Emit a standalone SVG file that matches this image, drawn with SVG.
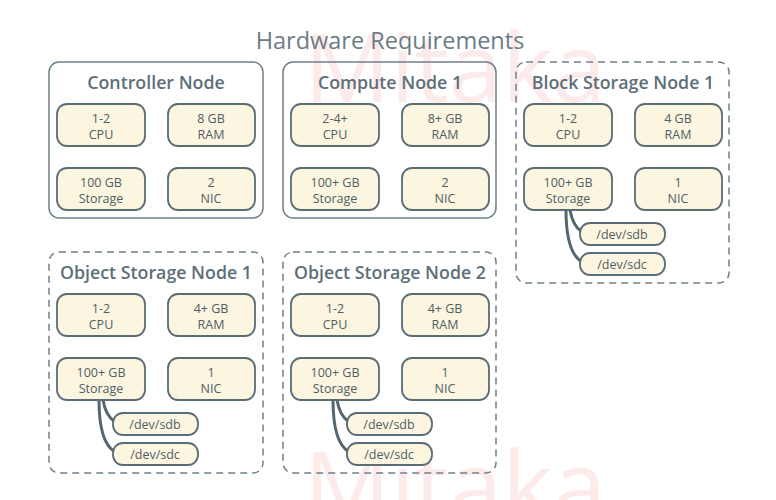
<svg xmlns="http://www.w3.org/2000/svg" width="776" height="500" viewBox="0 0 776 500">
<style>
text{font-family:"Open Sans","DejaVu Sans",sans-serif;text-anchor:middle}
.wm{font-size:96px;fill:#fdeaea}
.title{font-size:23.5px;fill:#6b7c85}
.nt{font-size:17.8px;fill:#5d6f79;font-weight:600}
.frame{fill:none;stroke:#6f808a;stroke-width:1.5}
.dash{stroke-dasharray:7 5}
.box{fill:#fcf5e0;stroke:#5a6c75;stroke-width:1.8}
.bt{font-size:12.5px;fill:#4e5f68}
.con{fill:none;stroke:#546770;stroke-width:3}
</style>
<text class="wm" x="455" y="102">Mitaka</text>
<text class="wm" x="455" y="520">Mitaka</text>
<text class="title" x="390" y="49">Hardware Requirements</text>
<defs>
<g id="quad">
<rect class="box" x="8" y="42" width="88" height="42" rx="10"/>
<rect class="box" x="119" y="42" width="87" height="42" rx="10"/>
<rect class="box" x="8" y="106" width="88" height="42" rx="10"/>
<rect class="box" x="119" y="106" width="87" height="42" rx="10"/>
</g>
<g id="devs">
<rect class="box" x="64" y="161" width="85" height="22" rx="10"/>
<rect class="box" x="64" y="191" width="85" height="22" rx="10"/>
<text class="bt" x="106" y="177">/dev/sdb</text>
<text class="bt" x="106" y="207">/dev/sdc</text>
</g>
</defs>
<g id="controller" transform="translate(49,62)">
<rect class="frame" width="214" height="156" rx="10"/>
<text class="nt" x="107" y="27">Controller Node</text>
<use href="#quad"/>
<text class="bt" x="52" y="61">1-2</text><text class="bt" x="52" y="77">CPU</text>
<text class="bt" x="162" y="61">8 GB</text><text class="bt" x="162" y="77">RAM</text>
<text class="bt" x="52" y="125">100 GB</text><text class="bt" x="52" y="141">Storage</text>
<text class="bt" x="162" y="125">2</text><text class="bt" x="162" y="141">NIC</text>
</g>
<g id="compute" transform="translate(283,62)">
<rect class="frame" width="213" height="156" rx="10"/>
<text class="nt" x="107" y="27">Compute Node 1</text>
<use href="#quad"/>
<text class="bt" x="52" y="61">2-4+</text><text class="bt" x="52" y="77">CPU</text>
<text class="bt" x="162" y="61">8+ GB</text><text class="bt" x="162" y="77">RAM</text>
<text class="bt" x="52" y="125">100+ GB</text><text class="bt" x="52" y="141">Storage</text>
<text class="bt" x="162" y="125">2</text><text class="bt" x="162" y="141">NIC</text>
</g>
<g id="connectors">
<path class="con" d="M570,210 C572,222 576,228 582,232"/>
<path class="con" d="M566,210 C566,235 570,255 582,262"/>
<path class="con" d="M103,400 C105,412 109,418 115,422"/>
<path class="con" d="M99,400 C99,425 103,445 115,452"/>
<path class="con" d="M337,400 C339,412 343,418 349,422"/>
<path class="con" d="M333,400 C333,425 337,445 349,452"/>
</g>
<g id="block" transform="translate(516,62)">
<rect class="frame dash" width="213" height="221" rx="10"/>
<text class="nt" x="107" y="27">Block Storage Node 1</text>
<use href="#quad"/>
<use href="#devs"/>
<text class="bt" x="52" y="61">1-2</text><text class="bt" x="52" y="77">CPU</text>
<text class="bt" x="162" y="61">4 GB</text><text class="bt" x="162" y="77">RAM</text>
<text class="bt" x="52" y="125">100+ GB</text><text class="bt" x="52" y="141">Storage</text>
<text class="bt" x="162" y="125">1</text><text class="bt" x="162" y="141">NIC</text>
</g>
<g id="object1" transform="translate(49,252)">
<rect class="frame dash" width="214" height="221" rx="10"/>
<text class="nt" x="107" y="27">Object Storage Node 1</text>
<use href="#quad"/>
<use href="#devs"/>
<text class="bt" x="52" y="61">1-2</text><text class="bt" x="52" y="77">CPU</text>
<text class="bt" x="162" y="61">4+ GB</text><text class="bt" x="162" y="77">RAM</text>
<text class="bt" x="52" y="125">100+ GB</text><text class="bt" x="52" y="141">Storage</text>
<text class="bt" x="162" y="125">1</text><text class="bt" x="162" y="141">NIC</text>
</g>
<g id="object2" transform="translate(283,252)">
<rect class="frame dash" width="213" height="221" rx="10"/>
<text class="nt" x="107" y="27">Object Storage Node 2</text>
<use href="#quad"/>
<use href="#devs"/>
<text class="bt" x="52" y="61">1-2</text><text class="bt" x="52" y="77">CPU</text>
<text class="bt" x="162" y="61">4+ GB</text><text class="bt" x="162" y="77">RAM</text>
<text class="bt" x="52" y="125">100+ GB</text><text class="bt" x="52" y="141">Storage</text>
<text class="bt" x="162" y="125">1</text><text class="bt" x="162" y="141">NIC</text>
</g>
</svg>
